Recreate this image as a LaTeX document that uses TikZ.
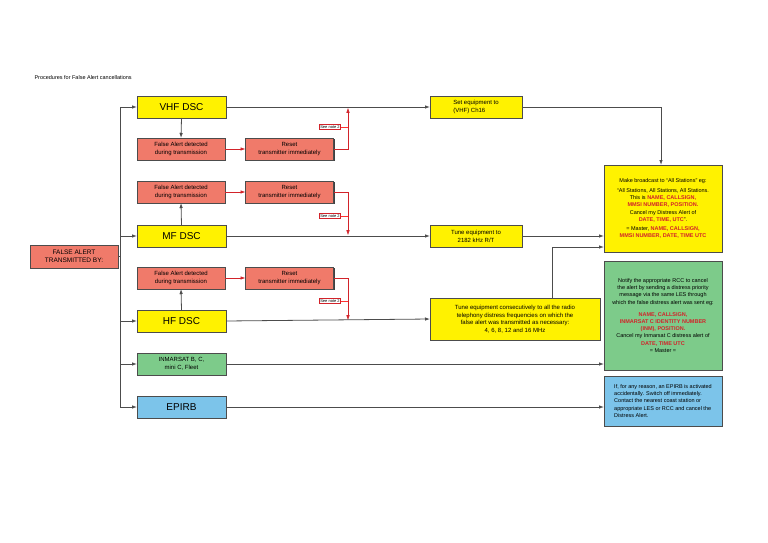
\documentclass[tikz,border=0pt]{standalone}
\usepackage{fontspec}
\setmainfont{Liberation Sans}
\usetikzlibrary{arrows.meta,shadows}
\definecolor{ylw}{HTML}{FFF200}
\definecolor{sal}{HTML}{F07A6A}
\definecolor{grn}{HTML}{7DCB8A}
\definecolor{blu}{HTML}{7CC4EA}
\definecolor{rtx}{HTML}{D2232A}
\newcommand{\rb}[1]{\textcolor{rtx}{\textbf{#1}}}
\begin{document}
\begin{tikzpicture}[x=1pt,y=-1pt,
  bx/.style={draw=black!70,line width=0.5pt,drop shadow={shadow xshift=1.2pt,shadow yshift=-1.2pt,fill=black!75,opacity=1},inner sep=1pt,align=center,outer sep=0pt},
  src/.style={bx,fill=ylw,minimum width=89pt,minimum height=22pt,font=\fontsize{10}{11}\selectfont},
  fa/.style={bx,fill=sal,minimum width=88pt,minimum height=22pt,font=\fontsize{6}{8}\selectfont},
  note/.style={draw=rtx,fill=white,font=\fontsize{4}{5}\selectfont,inner sep=1pt},
  ln/.style={draw=black!70,line width=0.8pt,-{Latex[length=5pt,width=3.5pt]}},
  rl/.style={draw=rtx,line width=0.6pt,-{Latex[length=5pt,width=3.5pt]}},
  bl/.style={draw=black!70,line width=0.8pt}]
\useasboundingbox (0,0) rectangle (768,543);
\node[anchor=west,font=\fontsize{5.5}{6}\selectfont] (title) at (31,78) {Procedures for False Alert cancellations};
\node[bx,fill=sal,minimum width=88pt,minimum height=23pt,font=\fontsize{6.5}{8}\selectfont] (fa) at (74,256.5) {FALSE ALERT\\TRANSMITTED BY:};
\node[src] (vhf) at (181.5,107) {VHF DSC};
\node[src] (mf) at (181.5,236) {MF DSC};
\node[src] (hf) at (181.5,321) {HF DSC};
\node[src,fill=grn,font=\fontsize{6}{8}\selectfont] (inm) at (181.5,364) {INMARSAT B, C,\\mini C, Fleet};
\node[src,fill=blu] (epirb) at (181.5,407) {EPIRB};
\node[fa] (f1) at (181,149) {False Alert detected\\during transmission};
\node[fa] (r1) at (289.5,149) {Reset\\transmitter immediately};
\node[fa] (f2) at (181,192) {False Alert detected\\during transmission};
\node[fa] (r2) at (289.5,192) {Reset\\transmitter immediately};
\node[fa] (f3) at (181,278) {False Alert detected\\during transmission};
\node[fa] (r3) at (289.5,278) {Reset\\transmitter immediately};
\node[bx,fill=ylw,minimum width=92pt,minimum height=22pt,font=\fontsize{6}{8}\selectfont,align=left] (set) at (476,107) {Set equipment to\\(VHF) Ch16};
\node[bx,fill=ylw,minimum width=92pt,minimum height=22pt,font=\fontsize{6}{8}\selectfont] (tune) at (476,236) {Tune equipment to\\2182 kHz R/T};
\node[bx,fill=ylw,minimum width=170pt,minimum height=42pt,font=\fontsize{6}{7.5}\selectfont] (tunehf) at (515,319) {Tune equipment consecutively to all the radio\\telephony distress frequencies on which the\\false alert was transmitted as necessary:\\4, 6, 8, 12 and 16 MHz};
\node[bx,fill=ylw,minimum width=118pt,minimum height=87pt,font=\fontsize{5.5}{7.2}\selectfont,anchor=north west] (bc) at (604,165) {Make broadcast to ``All Stations'' eg:\\[3pt]``All Stations, All Stations, All Stations.\\This is \rb{NAME, CALLSIGN,}\\\rb{MMSI NUMBER, POSITION.}\\Cancel my Distress Alert of\\\rb{DATE, TIME, UTC}''.\\[2pt]= Master, \rb{NAME, CALLSIGN,}\\\rb{MMSI NUMBER, DATE, TIME UTC}};
\node[bx,fill=grn,minimum width=118pt,minimum height=109pt,font=\fontsize{5.5}{7.2}\selectfont,anchor=north west] (gr) at (604,261) {Notify the appropriate RCC to cancel\\the alert by sending a distress priority\\message via the same LES through\\which the false distress alert was sent eg:\\[5pt]\rb{NAME, CALLSIGN,}\\\rb{INMARSAT C IDENTITY NUMBER}\\\rb{(INM), POSITION.}\\Cancel my Inmarsat C distress alert of\\\rb{DATE, TIME UTC}\\= Master =};
\node[bx,fill=blu,minimum width=118pt,minimum height=50pt,font=\fontsize{5.5}{7.2}\selectfont,align=left,anchor=north west] (bl) at (604,376) {If, for any reason, an EPIRB is activated\\accidentally. Switch off immediately.\\Contact the nearest coast station or\\appropriate LES or RCC and cancel the\\Distress Alert.};
% trunk
\coordinate (t0) at (120,107); \coordinate (t1) at (120,407);
\draw[bl] (fa.east) -- (120,256.5);
\draw[bl] (t0) -- (t1);
\draw[ln] (t0) -- (vhf.west);
\draw[ln] (120,236) -- (mf.west);
\draw[ln] (120,321) -- (hf.west);
\draw[ln] (120,364) -- (inm.west);
\draw[ln] (t1) -- (epirb.west);
\draw[ln] (vhf.south) -- (f1.north);
\draw[ln] (mf.north) -- (f2.south);
\draw[ln] (hf.north) -- (f3.south);
\draw[rl] (f1) -- (r1);
\draw[rl] (f2) -- (r2);
\draw[rl] (f3) -- (r3);
\draw[rl] (r1.east) -| (348,107.8);
\draw[rl] (r2.east) -| (348,235.2);
\draw[rl] (r3.east) -| (348,320.2);
\node[note] (n1) at (330,127) {See note 2};
\node[note] (n2) at (330,216) {See note 2};
\node[note] (n3) at (330,301) {See note 2};
\draw[red!80,line width=0.5pt] (n1.east) -- (348,127) (n2.east) -- (348,216) (n3.east) -- (348,301);
\draw[ln] (vhf.east) -- (set.west);
\draw[ln] (mf.east) -- (tune.west);
\draw[ln] (hf.east) -- (tunehf.west);
\draw[ln] (set.east) -| (bc.north -| 661,0);
\draw[ln] (tune.east) -- (tune.east -| bc.west);
\draw[ln] (tunehf.north -| 552,0) |- (604,247);
\draw[ln] (inm.east) -- (inm.east -| gr.west);
\draw[ln] (epirb.east) -- (epirb.east -| bl.west);
\end{tikzpicture}
\end{document}
